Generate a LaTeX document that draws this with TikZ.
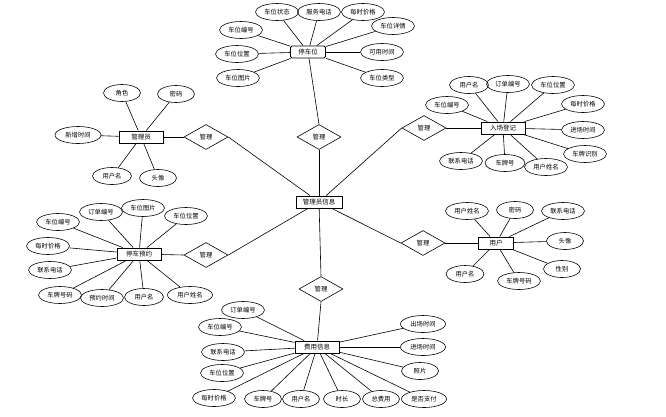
\documentclass[tikz,border=0pt]{standalone}
\usepackage{fontspec}
\setmainfont{Noto Sans CJK SC}
\usetikzlibrary{shapes.geometric}
\begin{document}
\begin{tikzpicture}[x=1pt,y=-1pt,
  attr/.style={ellipse,draw,line width=0.6pt,minimum width=43pt,minimum height=17pt,inner sep=0pt,font=\fontsize{6.3}{7}\selectfont},
  sattr/.style={attr,minimum width=37pt},
  ent/.style={rectangle,draw,line width=0.9pt,minimum width=44pt,minimum height=12pt,inner sep=1pt,font=\fontsize{6.5}{7.5}\selectfont},
  rel/.style={diamond,draw,line width=0.6pt,minimum width=44pt,minimum height=25pt,inner sep=0pt,aspect=1.8,font=\fontsize{6.3}{7}\selectfont},
  lnk/.style={line width=0.6pt}]
\useasboundingbox (0,0) rectangle (666,416);
% center
\node[ent,minimum width=46pt] (c) at (319,202) {管理员信息};
% ---- 停车位
\node[ent,minimum width=35pt,rounded corners=1.5pt] (p) at (308,52) {停车位};
\node[rel] (rp) at (319,137) {管理};
\node[attr] (p1) at (277,12) {车位状态};
\node[attr] (p2) at (319,12) {服务电话};
\node[attr] (p3) at (363,12) {每时价格};
\node[attr] (p4) at (393,26) {车位详情};
\node[attr] (p5) at (382,52) {可用时间};
\node[attr] (p6) at (382,78) {车位类型};
\node[attr] (p7) at (241,30) {车位编号};
\node[attr] (p8) at (237,54) {车位位置};
\node[attr] (p9) at (238,78) {车位图片};
\foreach \i in {1,...,9} \draw[lnk] (p\i) -- (p);
\draw[lnk] (p) -- (rp.north);
\draw[lnk] (rp.south) -- (c);
% ---- 管理员
\node[ent] (a) at (141,137) {管理员};
\node[rel] (ra) at (206,137) {管理};
\node[sattr] (a1) at (122,93) {角色};
\node[sattr] (a2) at (176,94) {密码};
\node[attr,minimum width=46pt] (a3) at (78,135) {新增时间};
\node[sattr,minimum width=39pt] (a4) at (112,176) {用户名};
\node[sattr] (a5) at (158,178) {头像};
\foreach \i in {1,...,5} \draw[lnk] (a\i) -- (a);
\draw[lnk] (a) -- (ra.west);
\draw[lnk] (ra.east) -- (c);
% ---- 停车预约
\node[ent] (y) at (139,254) {停车预约};
\node[rel] (ry) at (206,255) {管理};
\node[attr] (y1) at (58,222) {车位编号};
\node[attr] (y2) at (101,212) {订单编号};
\node[attr] (y3) at (143,208) {车位图片};
\node[attr] (y4) at (186,216) {车位位置};
\node[attr] (y5) at (48,246) {每时价格};
\node[attr] (y6) at (50,270) {联系电话};
\node[attr] (y7) at (60,295) {车牌号码};
\node[attr] (y8) at (102,298) {预约时间};
\node[sattr,minimum width=39pt] (y9) at (144,297) {用户名};
\node[attr,minimum width=45pt] (y10) at (190,295) {用户姓名};
\foreach \i in {1,...,10} \draw[lnk] (y\i) -- (y);
\draw[lnk] (y) -- (ry.west);
\draw[lnk] (ry.east) -- (c);
% ---- 入场登记
\node[ent] (r) at (503,128) {入场登记};
\node[rel] (rr) at (424,128) {管理};
\node[sattr,minimum width=39pt] (r1) at (469,85) {用户名};
\node[attr] (r2) at (508,84) {订单编号};
\node[attr] (r3) at (553,85) {车位位置};
\node[attr] (r4) at (583,104) {每时价格};
\node[attr] (r5) at (583,130) {进场时间};
\node[attr] (r6) at (585,154) {车牌识别};
\node[attr] (r7) at (546,167) {用户姓名};
\node[sattr,minimum width=40pt] (r8) at (505,163) {车牌号};
\node[attr] (r9) at (461,161) {联系电话};
\node[attr] (r10) at (447,105) {车位编号};
\foreach \i in {1,...,10} \draw[lnk] (r\i) -- (r);
\draw[lnk] (r) -- (rr.east);
\draw[lnk] (rr.west) -- (c);
% ---- 用户
\node[ent,minimum width=35pt] (u) at (496,243) {用户};
\node[rel] (ru) at (423,243) {管理};
\node[attr] (u1) at (467,211) {用户姓名};
\node[sattr] (u2) at (515,210) {密码};
\node[attr] (u3) at (563,211) {联系电话};
\node[sattr] (u4) at (565,241) {头像};
\node[sattr] (u5) at (562,269) {性别};
\node[attr] (u6) at (519,281) {车牌号码};
\node[sattr,minimum width=38pt] (u7) at (465,274) {用户名};
\foreach \i in {1,...,7} \draw[lnk] (u\i) -- (u);
\draw[lnk] (u) -- (ru.east);
\draw[lnk] (ru.west) -- (c);
% ---- 费用信息
\node[ent] (f) at (317,347) {费用信息};
\node[rel] (rf) at (321,289) {管理};
\node[attr] (f1) at (243,310) {订单编号};
\node[attr] (f2) at (220,327) {车位编号};
\node[attr] (f3) at (223,352) {联系电话};
\node[attr] (f4) at (222,373) {车位位置};
\node[attr] (f5) at (214,398) {每时价格};
\node[sattr] (f6) at (263,399) {车牌号};
\node[sattr] (f7) at (301,399) {用户名};
\node[sattr] (f8) at (342,399) {时长};
\node[sattr] (f9) at (381,399) {总费用};
\node[attr,minimum width=45pt] (f10) at (424,399) {是否支付};
\node[attr,minimum width=45pt] (f11) at (423,324) {出场时间};
\node[attr,minimum width=45pt] (f12) at (423,347) {进场时间};
\node[sattr] (f13) at (420,371) {照片};
\foreach \i in {1,...,13} \draw[lnk] (f\i) -- (f);
\draw[lnk] (c) -- (rf.north);
\draw[lnk] (rf.south) -- (f);
\end{tikzpicture}
\end{document}
